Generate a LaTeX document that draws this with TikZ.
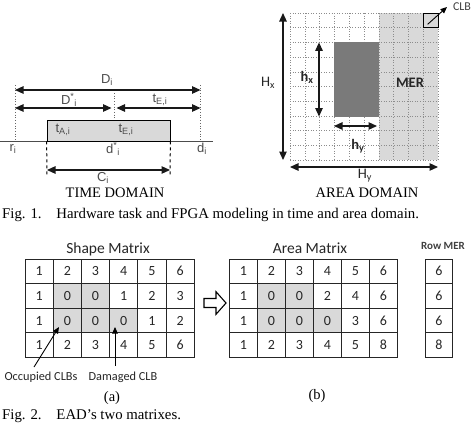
\documentclass[tikz,border=0pt]{standalone}
\usepackage{fontspec}
\setmainfont{Liberation Serif}
\newfontfamily\calf{Carlito}
\newfontfamily\arif{Liberation Sans}
\usetikzlibrary{arrows.meta}
\definecolor{lgray}{HTML}{D9D9D9}
\definecolor{dgray}{HTML}{7A7A7A}
\begin{document}
\begin{tikzpicture}[x=1pt,y=-1pt,
  dimarrow/.style={{Triangle[length=8.5pt,width=7.5pt]}-{Triangle[length=8.5pt,width=7.5pt]}, line width=1.2pt, black!90},
  onearrow/.style={-{Triangle[length=6.5pt,width=5.5pt]}, line width=0.9pt},
  tlab/.style={font=\arif\fontsize{13}{13}\selectfont, text=black!70, inner sep=0pt},
  alab/.style={font=\calf\fontsize{14.5}{14.5}\selectfont, text=black!85, inner sep=0pt},
  blab/.style={font=\calf\bfseries\fontsize{14.5}{14.5}\selectfont, text=black!85, inner sep=0pt},
  guide/.style={dotted, line width=0.7pt, black!60},
  dguide/.style={dashed, line width=1pt, black},
  gridline/.style={dotted, line width=0.6pt, black!45},
  serifcap/.style={font=\fontsize{14.5}{14.5}\selectfont, inner sep=0pt},
  caption/.style={font=\fontsize{14.8}{14.8}\selectfont, inner sep=0pt, anchor=west},
  cell/.style={draw, line width=0.9pt, draw=black!85, inner sep=0pt, font=\calf\fontsize{14}{14}\selectfont, text=black!85},
  title/.style={font=\calf\fontsize{15.5}{15.5}\selectfont, inner sep=0pt, text=black!85},
  note/.style={font=\calf\fontsize{12.3}{12.3}\selectfont, inner sep=0pt, text=black!85}
]
\useasboundingbox (0,0) rectangle (474,424);

% ---------------- TIME DOMAIN ----------------
\coordinate (base0) at (0,141);
\coordinate (base1) at (213,141);
\draw[line width=0.8pt, black!70] (base0) -- (base1);
\coordinate (rtop) at (15,85);   \coordinate (rbot) at (15,141);
\coordinate (dtop) at (200.5,85); \coordinate (dbot) at (200.5,141);
\coordinate (stop) at (114,93);  \coordinate (sbot) at (114,141);
\draw[guide] (rtop) -- (rbot);
\draw[guide] (dtop) -- (dbot);
\draw[guide] (stop) -- (sbot);
\node[draw, fill=lgray, line width=0.8pt, minimum width=123pt, minimum height=21pt, inner sep=0pt] (task) at (108.5,130.5) {};
\coordinate (cl) at (47,175); \coordinate (cr) at (170,175);
\draw[dguide] (task.south west) -- (cl);
\draw[dguide] (task.south east) -- (cr);
\coordinate (Da) at (15,90); \coordinate (Db) at (200.5,90);
\draw[dimarrow] (Da) -- (Db);
\coordinate (Dsa) at (15,108); \coordinate (Dsb) at (111.5,108);
\draw[dimarrow] (Dsa) -- (Dsb);
\coordinate (Tea) at (116.5,108); \coordinate (Teb) at (200.5,108);
\draw[dimarrow] (Tea) -- (Teb);
\coordinate (Ca) at (47,170); \coordinate (Cb) at (170,170);
\draw[dimarrow] (Ca) -- (Cb);
\node[tlab] (Dl) at (107,80) {D\textsubscript{i}};
\node[tlab] (Dsl) at (69,100) {D\textsuperscript{*}\textsubscript{i}};
\node[tlab] (tel) at (160,100) {t\textsubscript{E,i}};
\node[tlab] (tal) at (63,130) {t\textsubscript{A,i}};
\node[tlab] (tel2) at (126,130) {t\textsubscript{E,i}};
\node[tlab] (rl) at (13,149) {r\textsubscript{i}};
\node[tlab] (dsl) at (113,149) {d\textsuperscript{*}\textsubscript{i}};
\node[tlab] (dl) at (202,149) {d\textsubscript{i}};
\node[tlab] (Cl) at (103,178) {C\textsubscript{i}};
\node[serifcap] (tdom) at (115,193) {TIME DOMAIN};

% ---------------- AREA DOMAIN ----------------
\fill[lgray] (378.8,13) rectangle (438,160);
\foreach \i in {0,...,10} {
  \draw[gridline] ({290+\i*14.8},13) -- ({290+\i*14.8},160);
  \draw[gridline] (290,{13+\i*14.7}) -- (438,{13+\i*14.7});
}
\fill[dgray] (334.4,42.4) rectangle (378.8,116.5);
\node[draw, line width=0.9pt, minimum width=14.8pt, minimum height=14.7pt, inner sep=0pt] (clbbox) at (430.6,20.35) {};
\coordinate (clbtip) at (447,7);
\draw[onearrow] (clbbox.center) ++(-3,4) coordinate (clbfrom) (clbfrom) -- (clbtip);
\node[font=\calf\fontsize{12}{12}\selectfont, text=black!75, inner sep=0pt] (clbl) at (462,7) {CLB};
\coordinate (Hxa) at (283,13); \coordinate (Hxb) at (283,160);
\draw[dimarrow] (Hxa) -- (Hxb);
\coordinate (hxa) at (319,42.4); \coordinate (hxb) at (319,116.5);
\draw[dimarrow] (hxa) -- (hxb);
\coordinate (hya) at (334,126); \coordinate (hyb) at (377,126);
\draw[dimarrow] (hya) -- (hyb);
\coordinate (Hya) at (290,167); \coordinate (Hyb) at (438,167);
\draw[dimarrow] (Hya) -- (Hyb);
\node[alab] (Hxl) at (268,83) {H\textsubscript{x}};
\node[blab] (hxl) at (307,77) {h\textsubscript{x}};
\node[blab] (hyl) at (358,146) {h\textsubscript{y}};
\node[alab] (Hyl) at (365,176) {H\textsubscript{y}};
\node[blab] (merl) at (410,83) {MER};
\node[serifcap] (adom) at (367,193) {AREA DOMAIN};

% ---------------- Captions ----------------
\node[caption] (cap1) at (2,215) {Fig. 1.\quad Hardware task and FPGA modeling in time and area domain.};
\node[caption] (cap2) at (2,416) {Fig. 2.\quad EAD's two matrixes.};

% ---------------- Shape Matrix ----------------
\foreach \r/\c in {2/2,2/3,3/2,3/3,3/4} {
  \fill[lgray] ({25+(\c-1)*28.2},{259+(\r-1)*24.6}) rectangle ++(28.2,24.6);
  \fill[lgray] ({229.3+(\c-1)*28},{259+(\r-1)*24.6}) rectangle ++(28,24.6);
}
\foreach \r/\row in {1/{1,2,3,4,5,6},2/{1,0,0,1,2,3},3/{1,0,0,0,1,2},4/{1,2,3,4,5,6}} {
  \foreach \v [count=\c] in \row {
    \node[cell, minimum width=28.2pt, minimum height=24.6pt] (s\r\c) at ({25+(\c-0.5)*28.2},{259+(\r-0.5)*24.6}) {\v};
  }
}
\foreach \r/\row in {1/{1,2,3,4,5,6},2/{1,0,0,2,4,6},3/{1,0,0,0,3,6},4/{1,2,3,4,5,8}} {
  \foreach \v [count=\c] in \row {
    \node[cell, minimum width=28pt, minimum height=24.6pt] (a\r\c) at ({229.3+(\c-0.5)*28},{259+(\r-0.5)*24.6}) {\v};
  }
}
\foreach \r/\v in {1/6,2/6,3/6,4/8} {
  \node[cell, minimum width=27.7pt, minimum height=24.6pt] (m\r) at (438.85,{259+(\r-0.5)*24.6}) {\v};
}
\node[title] (st) at (108,249) {Shape Matrix};
\node[title] (at) at (310,248) {Area Matrix};
\node[font=\calf\bfseries\fontsize{11}{11}\selectfont, text=black!75, inner sep=0pt] (rt) at (443,246) {Row MER};
\draw[line width=1.1pt] (204,298.5) -- (216,298.5) -- (216,291.7) -- (226,303) -- (216,314.3) -- (216,307.5) -- (204,307.5) -- cycle;
\node[note] (occ) at (41,377) {Occupied CLBs};
\node[note] (dam) at (123,377) {Damaged CLB};
\coordinate (occfrom) at (34,367); \coordinate (occto) at (59,327);
\draw[onearrow] (occfrom) -- (occto);
\coordinate (damfrom) at (115,366); \coordinate (damto) at (115,327);
\draw[onearrow] (damfrom) -- (damto);
\node[serifcap] (la) at (112,398) {(a)};
\node[serifcap] (lb) at (317,396) {(b)};
\end{tikzpicture}
\end{document}
